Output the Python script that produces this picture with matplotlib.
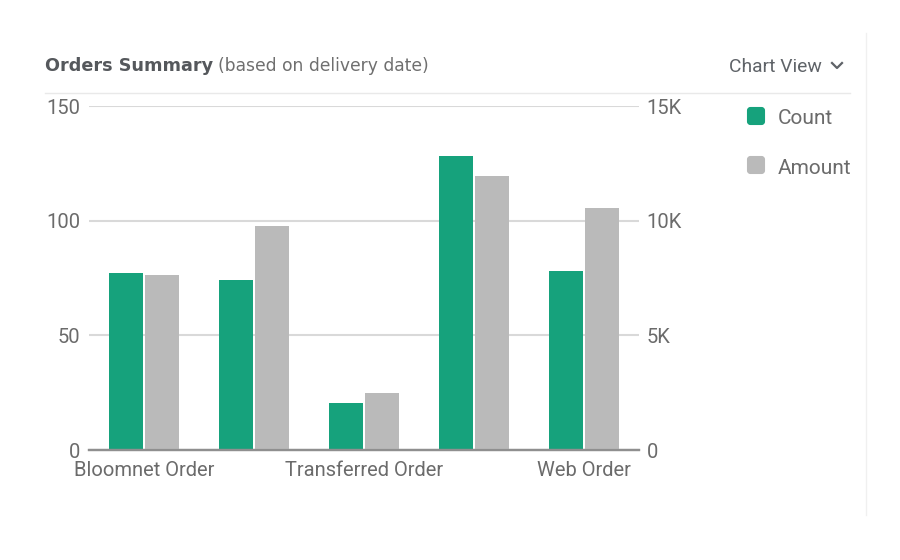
import matplotlib
matplotlib.use("Agg")
import matplotlib.pyplot as plt
from matplotlib.patches import FancyBboxPatch
from matplotlib.lines import Line2D
from matplotlib.transforms import Affine2D

categories = ["Bloomnet Order", "", "Transferred Order", "", "Web Order"]
count_values = [77, 74, 20.5, 128, 78]
amount_values = [7650, 9750, 2500, 11950, 10550]
left_ticks = [0, 50, 100, 150]
right_ticks = [0, 5000, 10000, 15000]
right_tick_labels = ["0", "5K", "10K", "15K"]

GREEN = "#16a27c"
GREY = "#bababa"
TEXT = "#6b6b6b"
W, H = 900, 560

plt.rcParams["font.family"] = ["Roboto", "DejaVu Sans"]
fig = plt.figure(figsize=(9, 5.6), dpi=100, facecolor="white")
ax = fig.add_axes([89 / W, 1 - 450 / H, 550 / W, 344 / H])
ax2 = ax.twinx()

x = list(range(len(categories)))
bw = 0.316
gap = 0.006
ax.bar([i - bw / 2 - gap for i in x], count_values, width=bw, color=GREEN, zorder=3)
ax2.bar([i + bw / 2 + gap for i in x], amount_values, width=bw, color=GREY, zorder=3)

ax.set_xlim(-0.5, 4.5)
ax.set_ylim(0, 150)
ax2.set_ylim(0, 15000)
ax.set_yticks(left_ticks)
ax2.set_yticks(right_ticks)
ax2.set_yticklabels(right_tick_labels)
ax.set_xticks(x)
ax.set_xticklabels(categories)

ax.grid(axis="y", color="#d9d9d9", lw=1.5, zorder=0)
ax.set_axisbelow(True)
for a in (ax, ax2):
    for side in ("top", "left", "right"):
        a.spines[side].set_visible(False)
    a.spines["bottom"].set_color("#8f8f8f")
    a.spines["bottom"].set_linewidth(1.6)
    a.spines["bottom"].set_zorder(5)
ax.tick_params(axis="y", length=0, pad=6, labelsize=14.5, labelcolor=TEXT)
ax2.tick_params(axis="y", length=0, pad=5.5, labelsize=14.5, labelcolor=TEXT)
ax.tick_params(axis="x", length=0, pad=8, labelsize=14.5, labelcolor=TEXT)
ax2.set_zorder(ax.get_zorder() + 1)
ax2.patch.set_visible(False)

px = Affine2D().scale(1, -1).translate(0, H)  # pixel coordinates, y down
fig.add_artist(Line2D([45, 850], [93, 93], transform=px, color="#e9e9e9", lw=1))
fig.add_artist(Line2D([866, 866], [33, 515], transform=px, color="#f0f0f0", lw=1))

fig.text(45 / W, 1 - 66 / H, "Orders Summary", family="DejaVu Sans", weight="bold",
         fontsize=12.7, color="#55585c", va="center")
fig.text(218 / W, 1 - 66 / H, "(based on delivery date)", family="DejaVu Sans",
         fontsize=12.3, color="#6f6f6f", va="center")
fig.text(729 / W, 1 - 67 / H, "Chart View", fontsize=13.9, color="#5f6368", va="center")
fig.add_artist(Line2D([832, 837, 842], [63, 68, 63], transform=px, color="#5f6368", lw=1.6))

for y, c, label in [(116, GREEN, "Count"), (165, GREY, "Amount")]:
    fig.add_artist(FancyBboxPatch((748, y - 8), 16, 16, boxstyle="round,pad=0,rounding_size=2.5",
                                  transform=px, fc=c, ec=c, lw=1.5))
    fig.text(778 / W, 1 - (y + 3) / H, label, fontsize=15, color=TEXT, va="center")

fig.savefig("out.png", dpi=100, facecolor="white")
